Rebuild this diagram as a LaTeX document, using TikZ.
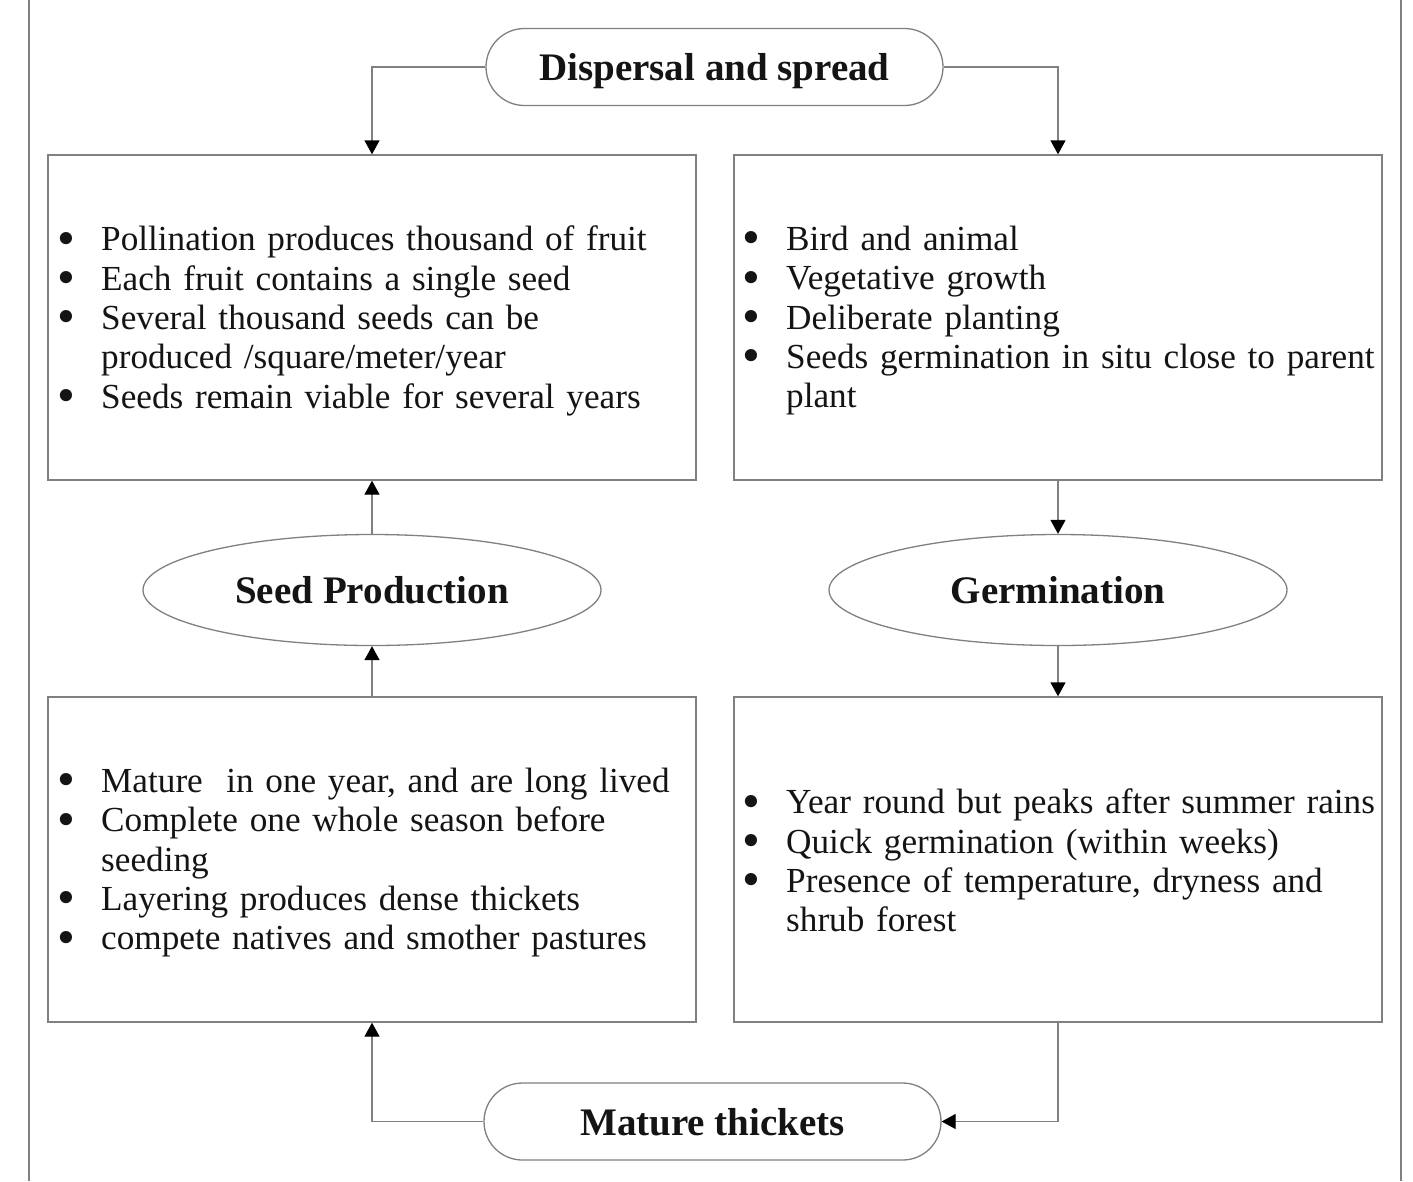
\documentclass[tikz,border=0pt]{standalone}
\usepackage{fontspec}
\setmainfont{Liberation Serif}
\usetikzlibrary{arrows.meta,shapes.geometric}
\definecolor{linegray}{RGB}{128,128,128}
\definecolor{txt}{RGB}{20,20,20}
\newcommand\bodyfont{\fontsize{35.2}{39.3}\selectfont\raggedright}
\newcommand\labfont{\fontsize{39}{44}\selectfont\bfseries}
\newcommand\bitem[1]{\hangindent=45pt\hangafter=1\noindent\makebox[45pt][l]{\hspace{1pt}\raisebox{-0.12em}{\scalebox{1.45}{\textbullet}}}#1\par}
\tikzset{
  box/.style={draw=linegray, line width=1.3pt, minimum width=648pt, minimum height=325pt, inner sep=0pt},
  term/.style={draw=linegray, line width=1.3pt, rounded corners=38.5pt, minimum width=457pt, minimum height=77pt, inner sep=0pt, text depth=0pt, font=\labfont, text=txt},
  oval/.style={ellipse, draw=linegray, line width=1.3pt, minimum width=458pt, minimum height=111pt, inner sep=0pt, font=\labfont, text=txt},
  blist/.style={anchor=north west, text width=660pt, inner sep=0pt, align=left, font=\bodyfont, text=txt},
  conn/.style={draw=linegray, line width=1.3pt, -{Triangle[width=15pt,length=14pt,color=black]}},
  frame/.style={draw=linegray, line width=1.3pt}
}
\begin{document}
\begin{tikzpicture}[x=1pt,y=-1pt]
\useasboundingbox[fill=white] (0,0) rectangle (1413,1181);
\coordinate (fl1) at (29,0); \coordinate (fl2) at (29,1181);
\coordinate (fr1) at (1401,0); \coordinate (fr2) at (1401,1181);
\draw[frame] (fl1) -- (fl2);
\draw[frame] (fr1) -- (fr2);

\node[term] (disp) at (714.5,67) {Dispersal and spread};
\node[box] (tl) at (372,317.5) {};
\node[box] (tr) at (1058,317.5) {};
\node[oval] (seed) at (372,590) {Seed Production};
\node[oval] (germ) at (1058,590) {Germination};
\node[box] (bl) at (372,859.5) {};
\node[box] (br) at (1058,859.5) {};
\node[term] (mat) at (712.5,1121.5) {Mature thickets};

\node[blist] (tltext) at (56,226) {%
\bitem{Pollination produces thousand of fruit}
\bitem{Each fruit contains a single seed}
\bitem{Several thousand seeds can be\newline produced /square/meter/year}
\bitem{Seeds remain viable for several years}};

\node[blist] (trtext) at (741,226) {%
\bitem{Bird and animal}
\bitem{Vegetative growth}
\bitem{Deliberate planting}
\bitem{Seeds germination in situ close to parent\newline plant}};

\node[blist] (bltext) at (56,768) {%
\bitem{Mature\ \ in one year, and are long lived}
\bitem{Complete one whole season before\newline seeding}
\bitem{Layering produces dense thickets}
\bitem{compete natives and smother pastures}};

\node[blist] (brtext) at (741,789) {%
\bitem{Year round but peaks after summer rains}
\bitem{Quick germination (within weeks)}
\bitem{Presence of temperature, dryness and\newline shrub forest}};

\draw[conn] (disp.west) -| (tl.north);
\draw[conn] (disp.east) -| (tr.north);
\draw[conn] (seed.north) -- (tl.south);
\draw[conn] (bl.north) -- (seed.south);
\draw[conn] (tr.south) -- (germ.north);
\draw[conn] (germ.south) -- (br.north);
\draw[conn] (br.south) |- (mat.east);
\draw[conn] (mat.west) -| (bl.south);
\end{tikzpicture}
\end{document}
